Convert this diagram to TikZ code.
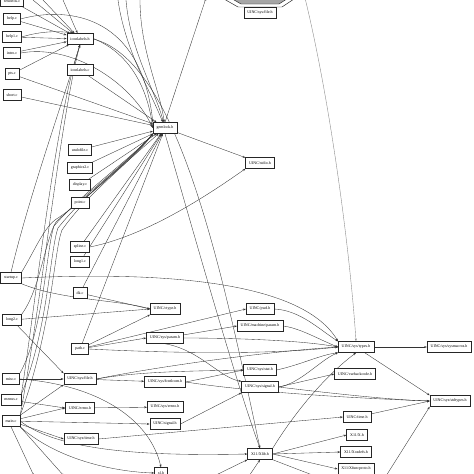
\documentclass[tikz,border=0pt]{standalone}
\usepackage{fontspec}
\setmainfont{Liberation Serif}
\usetikzlibrary{arrows.meta}
\pgfdeclarelayer{background}
\pgfsetlayers{background,main}
\begin{document}
\begin{tikzpicture}[x=1pt,y=-1pt,
  nd/.style={draw=black!85, line width=0.45pt, fill=white, font=\fontsize{4}{4.5}\selectfont, inner xsep=3.5pt, inner ysep=0pt, minimum height=11pt},
  e/.style={draw=black!80, line width=0.35pt, -{Stealth[length=2.8pt,width=2pt]}},
  eg/.style={draw=black!45, line width=0.4pt, -{Stealth[length=2.8pt,width=2pt]}}]
\useasboundingbox (0,0) rectangle (474,474);
\clip (0,0) rectangle (474,474);
% free ends
\coordinate (ta) at (33,0);
\coordinate (tb) at (43,0);
\coordinate (tc) at (63,0);
\coordinate (td) at (118,0);
\coordinate (te) at (126,0);
\coordinate (tf) at (140,0);
\coordinate (tg) at (206,-2);
\coordinate (tl) at (305,-2);
\coordinate (bi) at (214,476);
\coordinate (bj) at (249,476);
\coordinate (bk) at (386,476);
\coordinate (bh) at (315,476);
\coordinate (bm) at (34,476);
\coordinate (bn) at (64,476);
% octagon (cut)
\draw[black!85, line width=0.45pt] (224,-1) -- (238,7) -- (282,7) -- (294,-1);
\draw[black!85, line width=0.45pt, fill=black!35] (229,-3) -- (241,4) -- (279,4) -- (290,-3);
% nodes, left column
\node[nd] (restdeck) at (12,1) {restdeck.c};
\node[nd] (help) at (12,19) {help.c};
\node[nd] (help1) at (12,37) {help1.c};
\node[nd] (intro) at (12,53) {intro.c};
\node[nd] (pts) at (12,74) {pts.c};
\node[nd] (short) at (12,95) {short.c};
\node[nd] (startup) at (11,278) {startup.c};
\node[nd] (long2) at (12,320) {long2.c};
\node[nd] (misc) at (11,379) {misc.c};
\node[nd] (menus) at (11,400) {menus.c};
\node[nd] (main) at (11,421) {main.c};
% middle column
\node[nd] (iconlabelsh) at (80,39) {iconlabels.h};
\node[nd] (iconlabelsc) at (80,70) {iconlabels.c};
\node[nd] (undofile) at (80,150) {undofile.c};
\node[nd] (graphics2) at (80,168) {graphics2.c};
\node[nd] (display) at (80,185) {display.c};
\node[nd] (point) at (80,203) {point.c};
\node[nd] (spline) at (80,247) {spline.c};
\node[nd] (long1) at (80,262) {long1.c};
\node[nd] (dk) at (80,293) {dk.c};
\node[nd] (path) at (80,349) {path.c};
\node[nd] (sysfile2) at (80,379) {UINC/sys/file.h};
\node[nd] (errno) at (80,408) {UINC/errno.h};
\node[nd] (systime) at (81,439) {UINC/sys/time.h};
% third column
\node[nd] (lock) at (165,128) {gemlock.h};
\node[nd] (ctype) at (165,309) {UINC/ctype.h};
\node[nd] (sysparam) at (165,338) {UINC/sys/param.h};
\node[nd] (fcntlcom) at (165,382) {UINC/sys/fcntlcom.h};
\node[nd] (syserrno) at (165,407) {UINC/sys/errno.h};
\node[nd] (signal) at (165,424) {UINC/signal.h};
\node[nd] (xl) at (161,473) {xl.h};
% fourth column
\node[nd] (sysfile) at (260,13) {UINC/sys/file.h};
\node[nd] (stdio) at (260,163) {UINC/stdio.h};
\node[nd] (pwd) at (260,309) {UINC/pwd.h};
\node[nd] (machparam) at (260,326) {UINC/machine/param.h};
\node[nd] (sysstat) at (260,370) {UINC/sys/stat.h};
\node[nd] (syssignal) at (260,387) {UINC/sys/signal.h};
\node[nd] (xlib) at (260,454) {X11/Xlib.h};
% right columns
\node[nd] (types) at (356,347) {UINC/sys/types.h};
\node[nd] (varhack) at (355,374) {UINC/varhackcode.h};
\node[nd] (time) at (357,417) {UINC/time.h};
\node[nd] (X) at (357,435) {X11/X.h};
\node[nd] (xosdefs) at (356,452) {X11/Xosdefs.h};
\node[nd] (xfunc) at (356,469) {X11/Xfuncproto.h};
\node[nd] (sysmacros) at (449,347) {UINC/sys/sysmacros.h};
\node[nd] (stdtypes) at (450,401) {UINC/sys/stdtypes.h};
\begin{pgfonlayer}{background}
% edges into iconlabels.h
\draw[e] (restdeck) -- (iconlabelsh);
\draw[e] (help) -- (iconlabelsh);
\draw[e] (help1) -- (iconlabelsh);
\draw[e] (intro) -- (iconlabelsh);
\draw[e] (pts) -- (iconlabelsh);
\draw[e] (ta) -- (iconlabelsh);
\draw[e] (tb) -- (iconlabelsh);
\draw[e] (tc) -- (iconlabelsh);
\draw[e] (startup.north) .. controls (28,200) and (60,110) .. (iconlabelsh.south);
\draw[e] (menus.north east) .. controls (36,300) and (55,120) .. (iconlabelsh.south);
\draw[e] (main.north east) .. controls (42,300) and (60,120) .. (iconlabelsh.south);
% edges into lock
\draw[e] (help.east) .. controls (60,8) and (140,8) .. (lock.north west);
\draw[e] (help1.east) .. controls (70,22) and (140,35) .. (lock.west);
\draw[e] (intro.east) .. controls (70,44) and (130,80) .. (lock.west);
\draw[e] (pts) -- (lock);
\draw[e] (short) -- (lock);
\draw[e] (iconlabelsc) -- (lock);
\draw[e] (td) .. controls (125,50) and (150,90) .. (lock);
\draw[e] (te) .. controls (130,50) and (155,90) .. (lock);
\draw[e] (tf) .. controls (140,50) and (160,90) .. (lock);
\draw[e] (undofile) -- (lock);
\draw[e] (graphics2) -- (lock);
\draw[e] (display) -- (lock);
\draw[e] (point) -- (lock);
\draw[e] (spline) -- (lock);
\draw[e] (long1) -- (lock);
\draw[e] (dk) -- (lock);
\draw[e] (path) -- (lock);
\draw[e] (startup.north east) .. controls (35,250) and (45,225) .. (58,218) .. controls (85,200) and (130,160) .. (lock.south west);
\draw[e] (long2.north east) .. controls (40,290) and (45,240) .. (56,222) .. controls (85,195) and (130,160) .. (lock.south west);
\draw[e] (misc.north east) .. controls (44,330) and (46,250) .. (54,226) .. controls (85,190) and (130,160) .. (lock.south west);
\draw[e] (menus.north east) .. controls (48,330) and (50,250) .. (58,228) .. controls (88,190) and (132,160) .. (lock.south west);
\draw[e] (main.north east) .. controls (52,330) and (54,250) .. (62,230) .. controls (90,190) and (134,160) .. (lock.south west);
% lock out
\draw[e] (lock) -- (stdio);
\draw[e] (lock.north) -- (tg);
\draw[e] (lock.south) .. controls (190,220) and (235,380) .. (xlib.north);
\draw[e] (iconlabelsh.east) .. controls (175,60) and (218,250) .. (xlib.north);
\draw[e] (spline.east) .. controls (150,235) and (215,190) .. (stdio.south west);
\draw[eg] (tl) .. controls (330,100) and (350,250) .. (types.north);
% lower left region
\draw[e] (startup.east) .. controls (150,272) and (300,278) .. (types.north west);
\draw[e] (startup.south east) .. controls (60,300) and (120,300) .. (ctype.west);
\draw[e] (long2) -- (ctype.west);
\draw[e] (dk) -- (ctype.west);
\draw[e] (path) -- (ctype.south west);
\draw[e] (path) -- (sysparam.west);
\draw[e] (path) -- (pwd.west);
\draw[e] (path.east) .. controls (150,352) and (260,356) .. (types.west);
\draw[e] (long2) -- (sysfile2.north west);
\draw[e] (misc) -- (sysfile2.west);
\draw[e] (main.north east) -- (sysfile2.south west);
\draw[e] (misc.east) .. controls (100,385) and (150,420) .. (xl.north);
\draw[e] (menus) -- (errno.west);
\draw[e] (main) -- (errno.west);
\draw[e] (main) -- (signal.west);
\draw[e] (main) -- (systime.west);
\draw[e] (main.south east) .. controls (60,462) and (120,472) .. (xl.west);
\draw[e] (main.east) .. controls (60,452) and (150,456) .. (xlib.west);
\draw[e] (main.south) -- (bm);
\draw[e] (main.south east) -- (bn);
\draw[e] (sysfile2) -- (fcntlcom);
\draw[e] (sysfile2.east) .. controls (140,371) and (200,371) .. (sysstat.west);
\draw[e] (sysfile2.east) .. controls (150,368) and (260,352) .. (types.west);
\draw[e] (fcntlcom.east) -- (sysstat.west);
\draw[e] (fcntlcom.east) .. controls (250,392) and (350,398) .. (stdtypes.west);
\draw[e] (errno) -- (syserrno);
\draw[e] (signal.east) -- (syssignal.south west);
\draw[e] (sysparam) -- (machparam.west);
\draw[e] (sysparam.south) .. controls (200,350) and (220,378) .. (syssignal.north west);
\draw[e] (sysparam.east) .. controls (230,338) and (300,340) .. (types.west);
\draw[e] (pwd.east) .. controls (300,310) and (320,330) .. (types.north west);
\draw[e] (machparam.east) .. controls (300,328) and (320,340) .. (types.west);
\draw[e] (sysstat.east) .. controls (300,365) and (320,355) .. (types.south west);
\draw[e] (syssignal.east) .. controls (300,384) and (320,360) .. (types.south west);
\draw[e] (syssignal.east) -- (varhack.west);
\draw[e] (syssignal.east) .. controls (320,392) and (390,400) .. (stdtypes.west);
\draw[e] (systime.east) -- (time.west);
\draw[e] (types) -- (sysmacros);
\draw[e] (types) -- (stdtypes.north west);
\draw[e] (time) -- (stdtypes.west);
\draw[e] (xlib.north east) .. controls (290,420) and (320,380) .. (types.south);
\draw[e] (xlib.east) -- (X.west);
\draw[e] (xlib.east) -- (xosdefs.west);
\draw[e] (xlib.east) -- (xfunc.west);
\draw[e] (xlib.south east) -- (bh);
\draw[e] (bi) -- (xlib.south west);
\draw[e] (bj) -- (xlib.south);
\draw[e] (bk) -- (stdtypes.south west);
\end{pgfonlayer}
\end{tikzpicture}
\end{document}
